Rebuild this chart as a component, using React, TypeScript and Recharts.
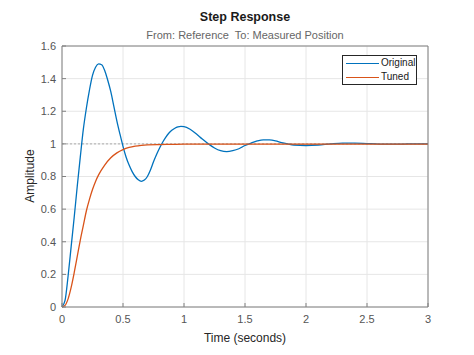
import { LineChart, Line, XAxis, YAxis, CartesianGrid, ReferenceLine } from "recharts";

// Original (blue) step response
const originalT = [0, 0.025, 0.05, 0.075, 0.1, 0.125, 0.15, 0.175, 0.2, 0.225, 0.25, 0.275, 0.3, 0.325, 0.35, 0.375, 0.4, 0.425, 0.45, 0.475, 0.5, 0.525, 0.55, 0.575, 0.6, 0.625, 0.65, 0.675, 0.7, 0.725, 0.75, 0.775, 0.8, 0.825, 0.85, 0.875, 0.9, 0.925, 0.95, 0.975, 1.0, 1.05, 1.1, 1.15, 1.2, 1.25, 1.3, 1.35, 1.4, 1.45, 1.5, 1.55, 1.6, 1.65, 1.7, 1.75, 1.8, 1.85, 1.9, 2.0, 2.1, 2.2, 2.3, 2.4, 2.5, 2.6, 2.7, 2.8, 2.9, 3.0];
const originalY = [0, 0.04, 0.19, 0.37, 0.55, 0.74, 0.92, 1.09, 1.22, 1.33, 1.42, 1.47, 1.49, 1.485, 1.45, 1.39, 1.32, 1.23, 1.14, 1.06, 0.985, 0.92, 0.87, 0.83, 0.8, 0.78, 0.77, 0.778, 0.8, 0.84, 0.89, 0.935, 0.975, 1.01, 1.04, 1.065, 1.083, 1.096, 1.104, 1.107, 1.106, 1.09, 1.062, 1.03, 1.0, 0.975, 0.958, 0.952, 0.958, 0.97, 0.99, 1.005, 1.018, 1.025, 1.024, 1.018, 1.008, 1.0, 0.993, 0.99, 0.993, 1.0, 1.005, 1.005, 1.002, 0.999, 0.998, 0.999, 1.0, 1.0];

// Tuned (orange) step response
const tunedT = [0, 0.025, 0.05, 0.075, 0.1, 0.125, 0.15, 0.175, 0.2, 0.225, 0.25, 0.275, 0.3, 0.35, 0.4, 0.45, 0.5, 0.55, 0.6, 0.65, 0.7, 0.8, 0.9, 1.0, 1.5, 2.0, 2.5, 3.0];
const tunedY = [0, 0.01, 0.05, 0.12, 0.21, 0.31, 0.41, 0.5, 0.59, 0.66, 0.72, 0.77, 0.81, 0.87, 0.915, 0.945, 0.965, 0.978, 0.986, 0.991, 0.994, 0.996, 0.997, 0.998, 0.998, 0.998, 0.998, 0.998];

const xTicks = [0, 0.5, 1, 1.5, 2, 2.5, 3];
const yTicks = [0, 0.2, 0.4, 0.6, 0.8, 1, 1.2, 1.4, 1.6];

const originalData = originalT.map((t, i) => ({ t, y: originalY[i] }));
const tunedData = tunedT.map((t, i) => ({ t, y: tunedY[i] }));

const FONT = '"Liberation Sans", Arial, Helvetica, sans-serif';
const AXIS = "#808080";
const TICK_TEXT = "#555555";

export default function App() {
  return (
    <div
      style={{
        position: "absolute",
        left: 0,
        top: 0,
        width: 474,
        height: 355,
        background: "#fff",
        fontFamily: FONT,
      }}
    >
      {/* titles */}
      <div style={{ position: "absolute", left: 0, width: 490, top: 10, textAlign: "center", fontSize: 12.5, fontWeight: "bold", color: "#1a1a1a" }}>
        Step Response
      </div>
      <div style={{ position: "absolute", left: 0, width: 490, top: 29, textAlign: "center", fontSize: 11, color: "#666", whiteSpace: "pre" }}>
        {"From: Reference  To: Measured Position"}
      </div>

      <LineChart width={474} height={355} margin={{ top: 36, right: 36, bottom: 18, left: 0 }}>
        <CartesianGrid xAxisId="b" yAxisId="l" stroke="#e6e6e6" horizontalValues={yTicks} verticalValues={xTicks} />
        <XAxis
          xAxisId="b"
          dataKey="t"
          type="number"
          domain={[0, 3]}
          ticks={xTicks}
          height={30}
          stroke={AXIS}
          tickSize={-4}
          tickMargin={12}
          tick={{ fill: TICK_TEXT, fontSize: 11, fontFamily: FONT }}
          allowDuplicatedCategory={false}
        />
        <XAxis
          xAxisId="t"
          orientation="top"
          dataKey="t"
          type="number"
          domain={[0, 3]}
          ticks={xTicks}
          height={10}
          stroke={AXIS}
          tickSize={-4}
          tick={false}
        />
        <YAxis
          yAxisId="l"
          type="number"
          domain={[0, 1.6]}
          ticks={yTicks}
          width={62}
          stroke={AXIS}
          tickSize={-4}
          tickMargin={10}
          tick={{ fill: TICK_TEXT, fontSize: 11, fontFamily: FONT }}
        />
        <YAxis
          yAxisId="r"
          orientation="right"
          type="number"
          domain={[0, 1.6]}
          ticks={yTicks}
          width={10}
          stroke={AXIS}
          tickSize={-4}
          tick={false}
        />
        <ReferenceLine xAxisId="b" yAxisId="l" y={1} stroke="#999" strokeDasharray="2 2" strokeWidth={0.8} />
        <Line
          xAxisId="b"
          yAxisId="l"
          data={originalData}
          dataKey="y"
          type="monotone"
          stroke="#0072BD"
          strokeWidth={1.3}
          dot={false}
          isAnimationActive={false}
        />
        <Line
          xAxisId="b"
          yAxisId="l"
          data={tunedData}
          dataKey="y"
          type="monotone"
          stroke="#D95319"
          strokeWidth={1.3}
          dot={false}
          isAnimationActive={false}
        />
      </LineChart>

      {/* axis labels */}
      <div style={{ position: "absolute", left: 0, width: 490, top: 331, textAlign: "center", fontSize: 12, color: "#262626" }}>
        Time (seconds)
      </div>
      <div
        style={{
          position: "absolute",
          left: 30,
          top: 176,
          transform: "translate(-50%, -50%) rotate(-90deg)",
          fontSize: 12,
          color: "#262626",
          whiteSpace: "nowrap",
        }}
      >
        Amplitude
      </div>

      {/* legend */}
      <div
        style={{
          position: "absolute",
          left: 342,
          top: 55,
          width: 75,
          height: 30,
          border: "1px solid #262626",
          background: "#fff",
          fontSize: 10,
          color: "#1a1a1a",
          boxSizing: "border-box",
        }}
      >
        <div style={{ position: "absolute", left: 3, top: 7, width: 33, height: 0, borderTop: "1.5px solid #0072BD" }} />
        <div style={{ position: "absolute", left: 38, top: 1 }}>Original</div>
        <div style={{ position: "absolute", left: 3, top: 21, width: 33, height: 0, borderTop: "1.5px solid #D95319" }} />
        <div style={{ position: "absolute", left: 38, top: 15 }}>Tuned</div>
      </div>
    </div>
  );
}
